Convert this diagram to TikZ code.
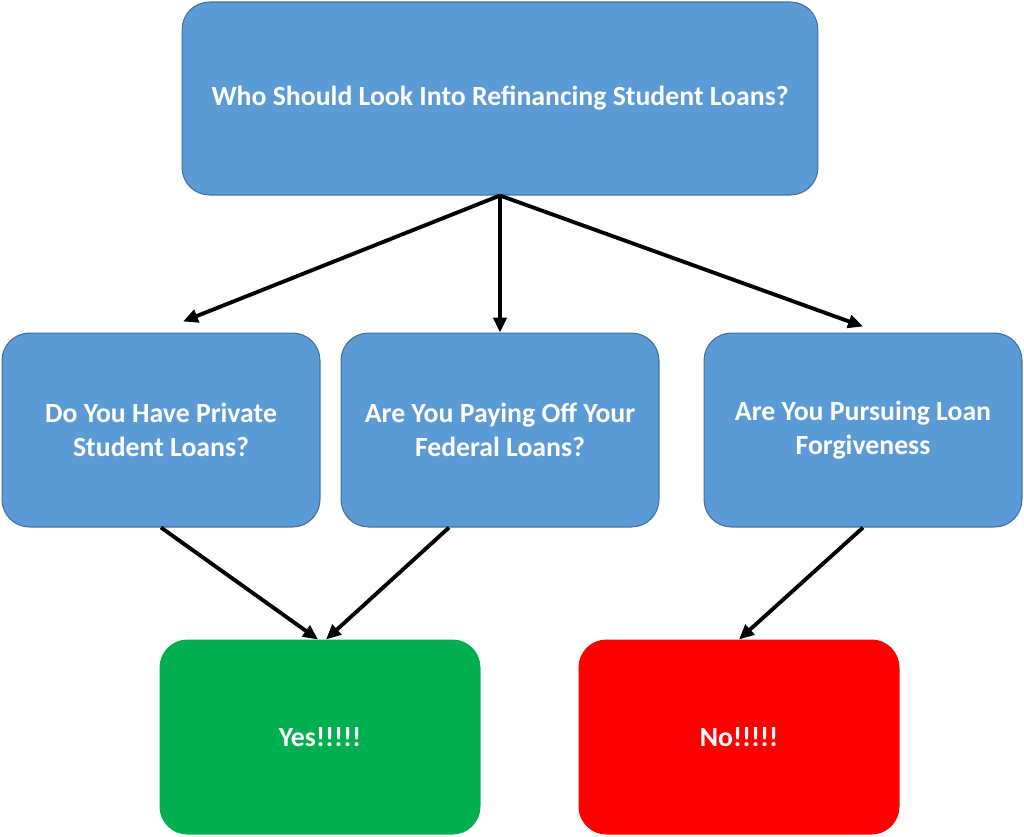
\documentclass[tikz,border=0pt]{standalone}
\usepackage{fontspec}
\setmainfont{Carlito}
\usepackage{tikz}
\usetikzlibrary{arrows.meta}
\usepackage{xcolor}
\definecolor{boxblue}{HTML}{5B9BD5}
\definecolor{boxline}{HTML}{41719C}
\definecolor{yesgreen}{HTML}{00B050}
\definecolor{nored}{HTML}{FF0000}
\tikzset{
  qbox/.style={draw=boxline, line width=.6pt, fill=boxblue, rounded corners=.55cm,
    text=white, align=center, inner sep=0pt,
    font=\fontsize{15.8}{19}\selectfont\bfseries},
  arr/.style={-{Triangle[length=8.5pt,width=7.5pt]}, line width=2.2pt}
}
\begin{document}
\begin{tikzpicture}[x=.02cm,y=-.02cm]
\useasboundingbox (0,0) rectangle (1024,836);
\node[qbox, minimum width=12.72cm, minimum height=3.86cm] (q) at (500,98.5)
  {Who Should Look Into Refinancing Student Loans?};
\node[qbox, minimum width=6.36cm, minimum height=3.88cm] (lq) at (161,430)
  {Do You Have Private\\Student Loans?};
\node[qbox, minimum width=6.36cm, minimum height=3.88cm] (mq) at (500,430)
  {Are You Paying Off Your\\Federal Loans?};
\node[qbox, minimum width=6.36cm, minimum height=3.88cm] (rq) at (863,430)
  {Are You Pursuing Loan\\Forgiveness};
\node[qbox, draw=yesgreen, fill=yesgreen, minimum width=6.4cm, minimum height=3.88cm] (yes) at (320,737)
  {Yes!!!!!};
\node[qbox, draw=nored, fill=nored, minimum width=6.4cm, minimum height=3.88cm] (no) at (739,737)
  {No!!!!!};
\draw[arr] (q.south) -- ([xshift=.44cm,yshift=.22cm]lq.north);
\draw[arr] (q.south) -- (mq.north);
\draw[arr] (q.south) -- ([yshift=.12cm]rq.north);
\draw[arr] (lq.south) -- ([xshift=-.04cm]yes.north);
\draw[arr] ([xshift=-1.02cm]mq.south) -- ([xshift=.12cm]yes.north);
\draw[arr] (rq.south) -- (no.north);
\end{tikzpicture}
\end{document}
